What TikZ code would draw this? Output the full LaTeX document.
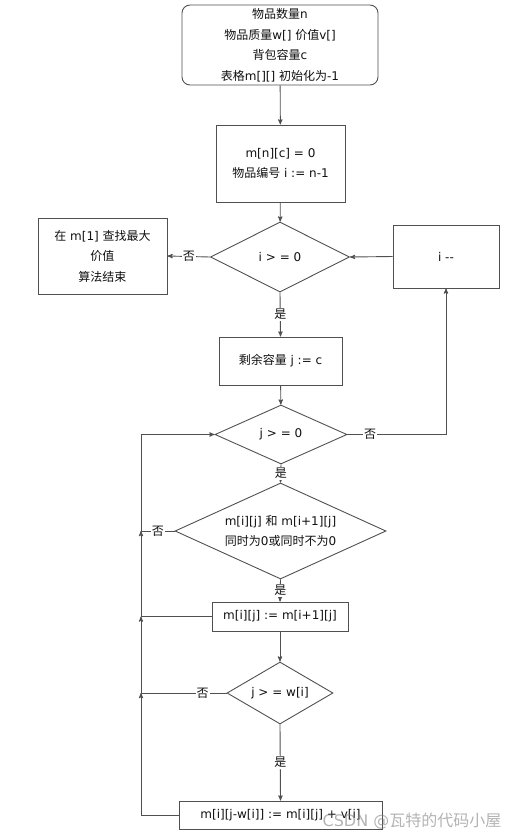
\documentclass[tikz,border=0pt]{standalone}
\usepackage{fontspec}
\setmainfont{DejaVu Sans}
\newfontfamily\cjk{Noto Sans CJK SC}
\usepackage{xcolor}
\usepackage{tikz}
\usetikzlibrary{arrows,shapes.geometric,positioning}
\newcommand{\zh}[1]{{\cjk #1}}
\definecolor{linegray}{HTML}{505050}
\definecolor{textgray}{HTML}{101010}
\tikzset{
    >=stealth',
    line/.style={draw=linegray, line width=0.9pt},
    flowbox/.style={
        rectangle,
        draw=linegray, line width=0.9pt,
        inner sep=0pt,
        align=center,
        text=textgray,
        font={\fontsize{12}{20.5}\selectfont}
    },
    startbox/.style={flowbox, rounded corners=8pt},
    decision/.style={
        diamond, aspect=2,
        draw=linegray, line width=0.9pt,
        inner sep=0pt,
        align=center,
        text=textgray,
        font={\fontsize{12}{20}\selectfont}
    },
    yesno/.style={fill=white, inner sep=1pt, text=textgray, font={\cjk\fontsize{12}{12}\selectfont}},
}

\begin{document}
\begin{tikzpicture}[x=1pt, y=-1pt]
\useasboundingbox (0,0) rectangle (529,839);
% boxes on the main column
\node(start) at (280,45) [startbox, minimum width=196, minimum height=80]
    {\zh{物品数量}n\\\zh{物品质量}w[] \zh{价值}v[]\\\zh{背包容量}c\\\zh{表格}m[][] \zh{初始化为}-1};
\node(init) at (280.5,163.5) [flowbox, minimum width=129, minimum height=77]
    {m[n][c] = 0\\\zh{物品编号} i := n-1};
\node(ichk) at (280,257) [decision, minimum width=139, minimum height=70]{i > = 0};
\node(done) at (102.5,256) [flowbox, minimum width=129, minimum height=76]
    {\zh{在} m[1] \zh{查找最大}\\\zh{价值}\\\zh{算法结束}};
\node(idec) at (446,256.5) [flowbox, minimum width=106, minimum height=63]{i -{}-};
\node(jset) at (280.5,361) [flowbox, minimum width=123, minimum height=48]{\zh{剩余容量} j := c};
\node(jchk) at (281,434.5) [decision, minimum width=132, minimum height=59]{j > = 0};
\node(same) at (280.5,531) [decision, minimum width=211, minimum height=96]
    {m[i][j] \zh{和} m[i+1][j]\\\zh{同时为}0\zh{或同时不为}0};
\node(keep) at (280,616.5) [flowbox, minimum width=136, minimum height=29]{m[i][j] := m[i+1][j]};
\node(wchk) at (280,693) [decision, minimum width=106, minimum height=62]{j > = w[i]};
\node(take) at (280.5,815) [flowbox, minimum width=203, minimum height=28]{m[i][j-w[i]] := m[i][j] + v[i]};
% left return line
\coordinate(back1) at (141,815);
\coordinate(back2) at (141,693);
\coordinate(back3) at (141,616.5);
\coordinate(back4) at (141,531);
\coordinate(back5) at (141,434.5);
\draw[line,->] (start) to (init);
\draw[line,->] (init) to (ichk);
\draw[line,->] (ichk.west) -- node[yesno]{否} (done.east);
\draw[line,->] (ichk.south) -- node[yesno]{是} (jset.north);
\draw[line,->] (idec.west) -- (ichk.east);
\draw[line,->] (jset) to (jchk);
\draw[line,->] (jchk.east) -- node[yesno, pos=.23]{否} (jchk.east -| idec.south) -- (idec.south);
\draw[line,->] (jchk.south) -- node[yesno]{是} (same.north);
\draw[line,->] (same.south) -- node[yesno]{是} (keep.north);
\draw[line,->] (keep) to (wchk);
\draw[line,->] (wchk.south) -- node[yesno]{是} (take.north);
\draw[line,->] (take.west) -- (back1) -- (back2);
\draw[line,->] (wchk.west) -- node[yesno, pos=.28]{否} (back2) -- (back3);
\draw[line,->] (keep.west) -- (back3) -- (back4);
\draw[line,->] (same.west) -- node[yesno]{否} (back4) -- (back5) -- (jchk.west);
% watermark
\node(mark) at (412,821) [text=gray, opacity=.6, font={\fontsize{16}{16}\selectfont}]{CSDN @\zh{瓦特的代码小屋}};
\end{tikzpicture}
\end{document}
